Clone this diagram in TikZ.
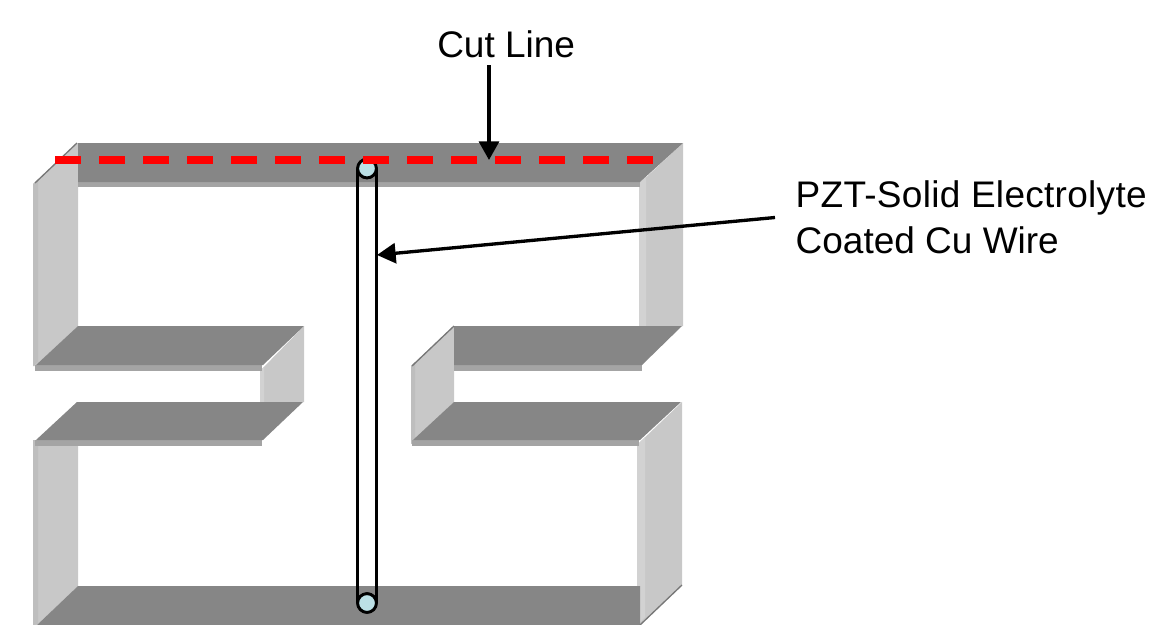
\documentclass[tikz,border=0pt]{standalone}
\usepackage{fontspec}
\setmainfont{Liberation Sans}
\usetikzlibrary{arrows.meta}
\definecolor{stripface}{HTML}{868686}
\definecolor{striprim}{HTML}{A4A4A4}
\definecolor{sidewall}{HTML}{C8C8C8}
\definecolor{sideshade}{HTML}{BEBEBE}
\definecolor{sidelight}{HTML}{D2D2D2}
\definecolor{edgedark}{HTML}{777777}
\definecolor{wirecap}{HTML}{BCE0E6}

\begin{document}
\begin{tikzpicture}[
    x=0.75pt, y=-0.75pt,
    face/.style={fill=stripface},
    rim/.style={fill=striprim},
    wall/.style={fill=sidewall},
    shade/.style={fill=sideshade},
    light/.style={fill=sidelight},
    edge/.style={draw=edgedark, line width=1pt},
    wireline/.style={black, line width=2.1pt},
    wirecap/.style={circle, draw=black, fill=wirecap, line width=2.1pt,
                    minimum size=14pt, inner sep=0pt, outer sep=0pt},
    lbl/.style={text=black, inner sep=0pt, align=left,
                font=\fontsize{27.75}{34.5}\selectfont},
    pointer/.style={black, line width=2.5pt, -{Triangle[length=14pt, width=15pt]}},
  ]
  \useasboundingbox (0,0) rectangle (1154,625);

  % ---- side walls ----
  \fill[wall] (33,184) -- (78,143) -- (78,326) -- (35,366) -- (33,366) -- cycle;
  \fill[shade] (33,184) -- (38,180) -- (38,362) -- (33,366) -- cycle;
  \fill[wall] (640,183) -- (683,143) -- (683,326) -- (640,326) -- cycle;
  \fill[light] (639,183) -- (646,177) -- (646,326) -- (639,326) -- cycle;
  \fill[wall] (260,371) -- (304,326) -- (304,402) -- (260,402) -- cycle;
  \fill[light] (260,371) -- (264,367) -- (264,402) -- (260,402) -- cycle;
  \fill[wall] (411,366) -- (454,326) -- (454,402) -- (411,444) -- cycle;
  \fill[shade] (411,366) -- (415,362) -- (415,440) -- (411,444) -- cycle;
  \fill[wall] (33,440) -- (78,440) -- (78,586) -- (37,625) -- (33,625) -- cycle;
  \fill[shade] (33,440) -- (38,440) -- (38,624) -- (33,625) -- cycle;
  \fill[wall] (637,445) -- (682,402) -- (682,585) -- (640,625) -- (637,625) -- cycle;
  \fill[light] (637,445) -- (645,437) -- (645,617) -- (637,625) -- cycle;

  % ---- strip rims ----
  \fill[rim] (78,181) rectangle (640,187);
  \fill[rim] (35,365) rectangle (262,371);
  \fill[rim] (35,440) rectangle (262,445.5);
  \fill[rim] (454,365) rectangle (642,371);
  \fill[rim] (412,440) rectangle (639,445.5);

  % ---- strip faces ----
  \fill[face] (78,143) -- (683,143) -- (640,182) -- (78,182) -- cycle;
  \fill[face] (78,326) -- (304,326) -- (263,365) -- (36,365) -- cycle;
  \fill[face] (77,402) -- (303,402) -- (263,440) -- (36,440) -- cycle;
  \fill[face] (454,326) -- (682,326) -- (642,365) -- (454,365) -- cycle;
  \fill[face] (454,402) -- (681,402) -- (640,440) -- (413,440) -- cycle;
  \fill[face] (78,586) -- (640,586) -- (640,625) -- (37,625) -- cycle;

  % ---- dark fold edges ----
  \draw[edge] (35,183) -- (77,143);
  \draw[edge] (412,366) -- (454,326);
  \draw[edge] (640,625) -- (682,585);

  % ---- wire with its two ends ----
  \node[wirecap] (topcap) at (367,168.5) {};
  \node[wirecap] (botcap) at (367,603) {};
  \draw[wireline] (topcap.west) -- (botcap.west);
  \draw[wireline] (topcap.east) -- (botcap.east);
  \node[wirecap] at (topcap) {};
  \node[wirecap] at (botcap) {};

  % ---- cut line ----
  \coordinate (cutleft) at (55,160);
  \coordinate (cutright) at (654,160);
  \draw[red, line width=5.4pt, dash pattern=on 19.5pt off 13.5pt] (cutleft) -- (cutright);

  % ---- labels and pointers ----
  \node[lbl, anchor=base west, outer ysep=6pt] (cutlbl) at (437,57) {Cut Line};
  \node[lbl, anchor=west, outer xsep=15.5pt] (wirelbl) at (775,217.5)
    {{\addfontfeature{LetterSpace=0.8}PZT-Solid Electrolyte}\\Coated Cu Wire};
  \coordinate (cuttip) at (489,160);
  \coordinate (wiretip) at (377,255);
  \draw[pointer] (cutlbl.south -| cuttip) -- (cuttip);
  \draw[pointer] (wirelbl.west) -- (wiretip);
\end{tikzpicture}
\end{document}
